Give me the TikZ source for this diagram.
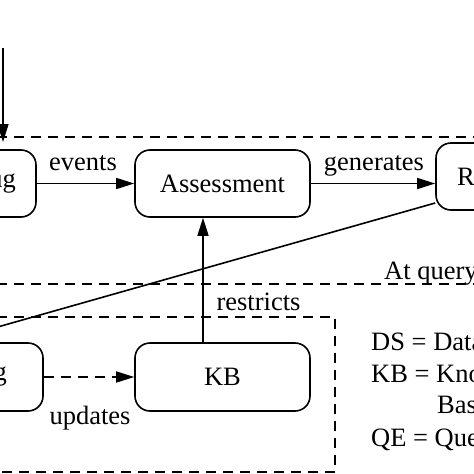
\documentclass[tikz,border=0pt]{standalone}
\usepackage{fontspec}
\setmainfont{Liberation Serif}
\usetikzlibrary{arrows.meta}
\begin{document}
\begin{tikzpicture}[x=1pt,y=-1pt,
  every node/.style={font=\fontsize{26.5}{31}\selectfont},
  box/.style={draw, rounded corners=15pt, line width=1.6pt, inner sep=0pt, minimum height=67pt},
  conn/.style={line width=1.6pt},
  arr/.style={conn, -{Triangle[length=18pt,width=11pt]}},
  dsh/.style={line width=1.5pt, dash pattern=on 10pt off 7pt},
  lbl/.style={anchor=base, inner sep=0pt}]
\useasboundingbox (0,0) rectangle (474,474);
\clip (0,0) rectangle (474,474);
% dashed regions
\draw[dsh] (-20,137) -- (494,137);
\draw[dsh] (-20,284) -- (494,284);
\draw[dsh] (-20,317) -- (335,317) -- (335,472) -- (-20,472);
% nodes
\node[box, minimum width=136pt, text width=96pt, align=right] (Mon) at (-32,183.5) {ug};
\node[box, minimum width=175pt] (Assess) at (222.5,183.5) {Assessment};
\node[box, minimum width=164pt, text width=122pt, align=left] (R) at (518,176.5) {R};
\node[box, minimum width=143pt, minimum height=68pt, text width=71pt, align=right] (QE) at (-28.5,377) {g};
\node[box, minimum width=175pt, minimum height=68pt] (KB) at (222.5,377) {KB};
% connectors
\coordinate (in) at (3,48);
\coordinate (inend) at (3,142);
\draw[arr] (in) -- (inend);
\draw[arr] (Mon.east) -- (Assess.west);
\draw[arr] (Assess.east) -- (Assess.east -| R.west);
\draw[arr] ([xshift=-19.5pt]KB.north) -- ([xshift=-19.5pt]Assess.south);
\draw[arr, dash pattern=on 10pt off 7pt] (QE.east) -- (KB.west);
\draw[conn] ([yshift=-26.5pt]R.west) -- ([xshift=-27.5pt]QE.north);
% labels
\node[lbl] (ev) at (83,170) {events};
\node[lbl] (gen) at (374,170) {generates};
\node[lbl] (res) at (258.5,310) {restricts};
\node[lbl] (upd) at (90,424) {updates};
\node[lbl, anchor=base west] (aq) at (384,279) {At query};
% legend
\node[lbl, anchor=base west] (l1) at (371,350) {DS = Data};
\node[lbl, anchor=base west] (l2) at (371,382) {KB = Kno};
\node[lbl, anchor=base west] (l3) at (437,413) {Bas};
\node[lbl, anchor=base west] (l4) at (371,446) {QE = Que};
\end{tikzpicture}
\end{document}
